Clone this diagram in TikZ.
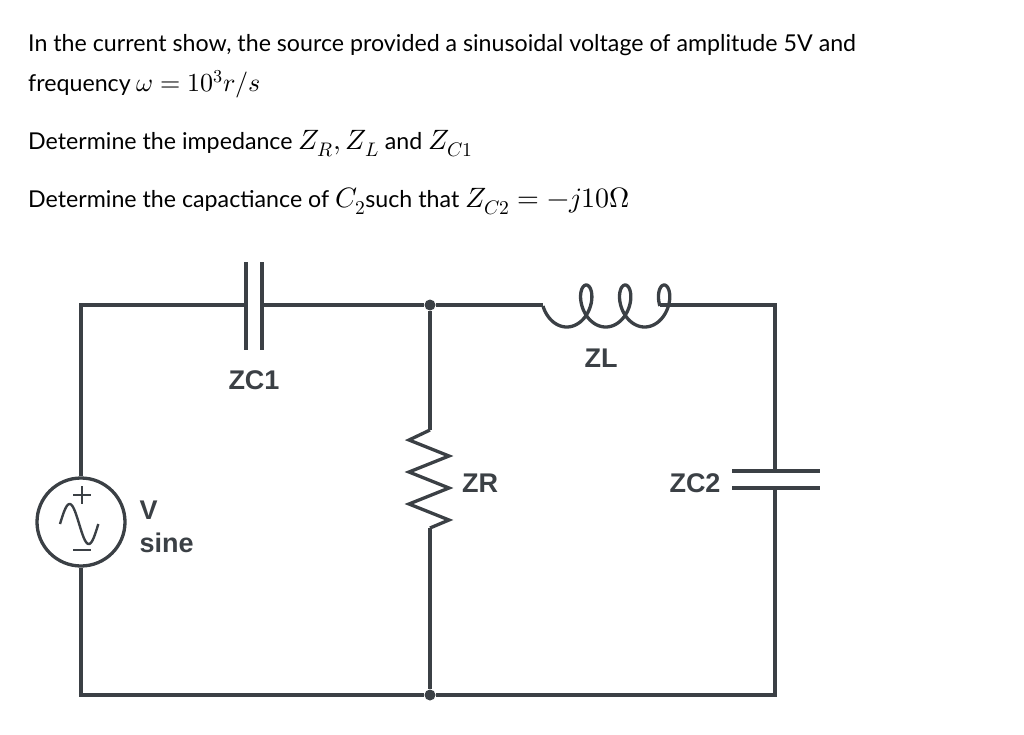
\documentclass[tikz,border=0pt]{standalone}
\usepackage{fontspec}
\setmainfont{Lato}
\newfontfamily\lab{Liberation Sans}
\usepackage{unicode-math}
\setmathfont{Latin Modern Math}
\begin{document}
\begin{tikzpicture}[x=1pt,y=-1pt,
  wire/.style={draw=cg,line width=3.3pt},
  lbl/.style={font=\lab\bfseries\fontsize{27}{29}\selectfont,text=cg},
  txt/.style={anchor=base west,inner sep=0pt,font=\fontsize{23.2}{26}\selectfont,text=black},
  dot/.style={circle,fill=cg,inner sep=0pt,minimum size=11pt}]
\definecolor{cg}{HTML}{3B4045}
\useasboundingbox (0,0) rectangle (1024,735);
\node[txt] (t1) at (28,52) {In the current show, the source provided a sinusoidal voltage of amplitude 5V and};
\node[txt] (t2) at (28,92) {frequency {\fontsize{26}{24}\selectfont$\omega=10^3r/s$}};
\node[txt] (t3) at (28,150) {Determine the impedance {\fontsize{28}{24}\selectfont$Z_R,Z_L$} and {\fontsize{28}{24}\selectfont$Z_{C1}$}};
\node[txt] (t4) at (28,208) {Determine the capactiance of {\fontsize{28}{24}\selectfont$C_2$}such that {\fontsize{28}{24}\selectfont$Z_{C2}=-j10\Omega$}};
% coordinates
\coordinate (tl) at (81,305);
\coordinate (bl) at (81,695);
\coordinate (tr) at (775,305);
\coordinate (br) at (775,695);
\node[dot] (jt) at (430,305) {};
\node[dot] (jb) at (430,695) {};
\node[circle,draw=cg,line width=3.3pt,minimum size=88pt,inner sep=0pt] (src) at (81,522) {};
\coordinate (c1a) at (246,305);
\coordinate (c1b) at (262,305);
\coordinate (ra) at (430,430);
\coordinate (rb) at (430,528);
\coordinate (la) at (543,305);
\coordinate (lb) at (660,305);
\coordinate (c2a) at (775,471);
\coordinate (c2b) at (775,488);
% wires
\draw[wire] (src.north) -- (tl) -- (c1a);
\draw[wire] (c1b) -- (jt) -- (la);
\draw[wire] (lb) -- (tr) -- (c2a);
\draw[wire] (c2b) -- (br) -- (jb) -- (bl) -- (src.south);
\draw[wire] (jt) -- (ra);
\draw[wire] (rb) -- (jb);
% C1
\draw[wire] (246,262) -- (246,350);
\draw[wire] (262,262) -- (262,350);
% C2
\draw[wire] (732,471) -- (820,471);
\draw[wire] (732,488) -- (820,488);
% resistor
\draw[wire,line join=miter] (ra) -- (409,440) -- (449,456) -- (409,472) -- (449,488) -- (409,504) -- (449,520) -- (rb);
% inductor
\draw[wire] plot[domain=0:18.85,samples=240,smooth] ({543+14+6.2*\x-14*cos(\x r)},{306+21*sin(\x r)});
% source symbols
\draw[draw=cg,line width=2.4pt] plot[domain=0:6.283,samples=60,smooth] ({60+\x*6.1},{524-20*sin(\x r)});
\draw[draw=cg,line width=2.4pt] (73,495) -- (91,495) (82,486) -- (82,504);
\draw[draw=cg,line width=2.4pt] (73,550) -- (91,550);
% labels
\node[lbl,anchor=base west] (v) at (136,519) {V};
\node[lbl,anchor=base west] (s) at (136,552) {sine};
\node[lbl] (l1) at (254,380) {ZC1};
\node[lbl] (l2) at (480,483) {ZR};
\node[lbl] (l3) at (601,358) {ZL};
\node[lbl] (l4) at (695,483) {ZC2};
\end{tikzpicture}
\end{document}
